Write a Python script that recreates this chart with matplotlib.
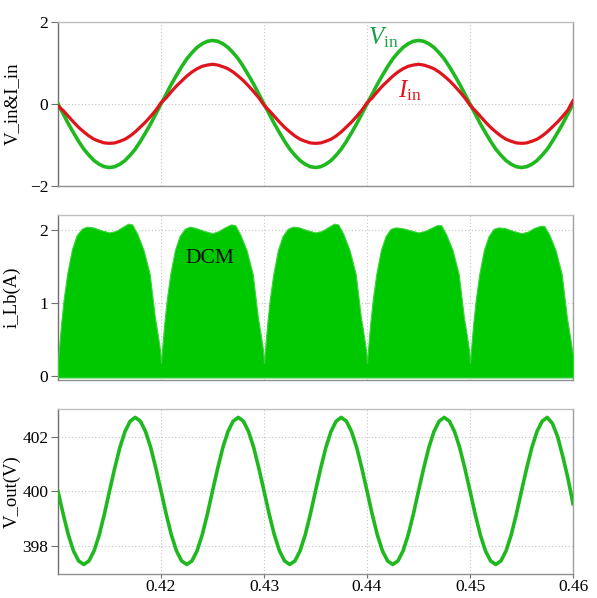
import numpy as np
import matplotlib
matplotlib.use("Agg")
import matplotlib.pyplot as plt

plt.rcParams["font.family"] = ["Liberation Serif", "DejaVu Serif"]
plt.rcParams["mathtext.fontset"] = "custom"
plt.rcParams["mathtext.rm"] = "Liberation Serif"
plt.rcParams["mathtext.it"] = "Liberation Serif:italic"

# ------------------ DATA ------------------
# sample times for the sine traces, 0.41 .. 0.46 s every 0.5 ms
t = np.linspace(0.41, 0.46, 101)

v_in = [0.00, -0.24, -0.48, -0.70, -0.91, -1.10, -1.25, -1.38, -1.47, -1.53,
        -1.55, -1.53, -1.47, -1.38, -1.25, -1.10, -0.91, -0.70, -0.48, -0.24,
        0.00, 0.24, 0.48, 0.70, 0.91, 1.10, 1.25, 1.38, 1.47, 1.53,
        1.55, 1.53, 1.47, 1.38, 1.25, 1.10, 0.91, 0.70, 0.48, 0.24,
        0.00, -0.24, -0.48, -0.70, -0.91, -1.10, -1.25, -1.38, -1.47, -1.53,
        -1.55, -1.53, -1.47, -1.38, -1.25, -1.10, -0.91, -0.70, -0.48, -0.24,
        0.00, 0.24, 0.48, 0.70, 0.91, 1.10, 1.25, 1.38, 1.47, 1.53,
        1.55, 1.53, 1.47, 1.38, 1.25, 1.10, 0.91, 0.70, 0.48, 0.24,
        0.00, -0.24, -0.48, -0.70, -0.91, -1.10, -1.25, -1.38, -1.47, -1.53,
        -1.55, -1.53, -1.47, -1.38, -1.25, -1.10, -0.91, -0.70, -0.48, -0.24,
        0.00]

i_in = [-0.05, -0.16, -0.30, -0.44, -0.57, -0.68, -0.78, -0.86, -0.91, -0.95,
        -0.96, -0.95, -0.91, -0.86, -0.78, -0.68, -0.56, -0.44, -0.30, -0.15,
        0.03, 0.15, 0.30, 0.44, 0.56, 0.68, 0.78, 0.86, 0.92, 0.95,
        0.97, 0.95, 0.91, 0.86, 0.78, 0.68, 0.57, 0.44, 0.30, 0.15,
        -0.03, -0.16, -0.30, -0.44, -0.57, -0.68, -0.78, -0.86, -0.91, -0.95,
        -0.96, -0.95, -0.91, -0.86, -0.78, -0.68, -0.56, -0.44, -0.30, -0.15,
        0.03, 0.15, 0.30, 0.44, 0.56, 0.68, 0.78, 0.86, 0.92, 0.95,
        0.97, 0.95, 0.91, 0.86, 0.78, 0.68, 0.57, 0.44, 0.30, 0.15,
        -0.03, -0.16, -0.30, -0.44, -0.57, -0.68, -0.78, -0.86, -0.91, -0.95,
        -0.96, -0.95, -0.91, -0.86, -0.78, -0.68, -0.56, -0.44, -0.30, -0.15,
        0.08]

v_out = [400.00, 399.17, 398.41, 397.82, 397.45, 397.32, 397.45, 397.82, 398.41, 399.17,
         400.02, 400.85, 401.61, 402.20, 402.58, 402.72, 402.58, 402.20, 401.61, 400.85,
         400.02, 399.17, 398.41, 397.82, 397.45, 397.32, 397.45, 397.82, 398.41, 399.17,
         400.02, 400.85, 401.61, 402.20, 402.58, 402.72, 402.58, 402.20, 401.61, 400.85,
         400.02, 399.17, 398.41, 397.82, 397.45, 397.32, 397.45, 397.82, 398.41, 399.17,
         400.02, 400.85, 401.61, 402.20, 402.58, 402.72, 402.58, 402.20, 401.61, 400.85,
         400.02, 399.17, 398.41, 397.82, 397.45, 397.32, 397.45, 397.82, 398.41, 399.17,
         400.02, 400.85, 401.61, 402.20, 402.58, 402.72, 402.58, 402.20, 401.61, 400.85,
         400.02, 399.17, 398.41, 397.82, 397.45, 397.32, 397.45, 397.82, 398.41, 399.17,
         400.02, 400.85, 401.61, 402.20, 402.58, 402.72, 402.50, 402.02, 401.30, 400.50,
         399.55]

# inductor current peak envelope: each hump starts at a line zero crossing
hump_starts = [0.41, 0.42, 0.43, 0.44, 0.45]
hump_offsets_ms = [0.0, 0.15, 0.3, 0.55, 0.9, 1.35, 1.8, 2.3, 2.8, 3.4, 4.2, 5.0,
                   5.6, 6.2, 6.8, 7.2, 7.7, 8.3, 8.9, 9.4, 9.7, 9.9, 10.0]
ilb_hump1 = [0.22, 0.47, 0.72, 1.06, 1.41, 1.74, 1.93, 2.02, 2.05, 2.04, 2.00, 1.97,
             1.99, 2.04, 2.09, 2.08, 1.95, 1.73, 1.40, 0.81, 0.55, 0.36, 0.18]
ilb_hump2 = [0.18, 0.45, 0.70, 1.04, 1.40, 1.73, 1.92, 2.02, 2.05, 2.03, 1.99, 1.96,
             1.99, 2.04, 2.08, 2.07, 1.94, 1.73, 1.40, 0.81, 0.55, 0.36, 0.18]
ilb_hump3 = [0.18, 0.45, 0.70, 1.04, 1.40, 1.73, 1.92, 2.02, 2.05, 2.04, 2.00, 1.97,
             1.99, 2.04, 2.09, 2.08, 1.95, 1.73, 1.40, 0.81, 0.55, 0.36, 0.18]
ilb_hump4 = [0.18, 0.45, 0.70, 1.04, 1.40, 1.73, 1.92, 2.02, 2.04, 2.03, 2.00, 1.97,
             1.99, 2.03, 2.07, 2.07, 1.94, 1.73, 1.40, 0.81, 0.55, 0.36, 0.18]
ilb_hump5 = [0.18, 0.45, 0.70, 1.04, 1.40, 1.73, 1.92, 2.02, 2.04, 2.03, 1.99, 1.96,
             1.98, 2.03, 2.06, 2.06, 1.94, 1.73, 1.40, 0.81, 0.55, 0.36, 0.30]

x_ticks = [0.42, 0.43, 0.44, 0.45, 0.46]

# ------------------ PLOT ------------------
green = "#1fb81f"
red = "#e0141c"
fill_green = "#00c800"

fig = plt.figure(figsize=(5.97, 5.98), dpi=100)
ax1 = fig.add_axes([0.0972, 0.6890, 0.8626, 0.2742])
ax2 = fig.add_axes([0.0972, 0.3645, 0.8626, 0.2760])
ax3 = fig.add_axes([0.0972, 0.0401, 0.8626, 0.2760])

ax1.plot(t, v_in, color=green, lw=2.6, zorder=3)
ax1.plot(t, i_in, color=red, lw=2.3, zorder=4)
ax1.text(0.4416, 1.62, r"$V_{\rm in}$", color="#1a9e45", fontsize=18,
         ha="center", va="center")
ax1.text(0.4442, 0.32, r"$I_{\rm in}$", color=red, fontsize=18,
         ha="center", va="center")
ax1.set_ylim(-2, 2)
ax1.set_yticks([-2, 0, 2])
ax1.set_ylabel("V_in&I_in")

env_t = []
env_v = []
for start, hump in zip(hump_starts, [ilb_hump1, ilb_hump2, ilb_hump3, ilb_hump4, ilb_hump5]):
    for off, val in zip(hump_offsets_ms, hump):
        env_t.append(start + off / 1000.0)
        env_v.append(val)
ax2.fill_between(env_t, -0.02, env_v, color=fill_green, lw=0.8,
                 edgecolor="#3cd43c", zorder=3)
ax2.text(0.4247, 1.61, "DCM", fontsize=15.5, ha="center", va="center", color="#111111")
ax2.set_ylim(-0.055, 2.21)
ax2.set_yticks([0, 1, 2])
ax2.set_ylabel("i_Lb(A)")

ax3.plot(t, v_out, color=green, lw=2.6, zorder=3)
ax3.set_ylim(396.97, 403.03)
ax3.set_yticks([398, 400, 402])
ax3.set_ylabel("V_out(V)")

for ax in [ax1, ax2, ax3]:
    ax.set_xlim(0.41, 0.46)
    ax.set_xticks(x_ticks)
    ax.grid(True, linestyle=(0, (1, 2)), color="#c4c4c4", lw=0.8, zorder=0)
    ax.tick_params(axis="both", direction="out", length=5, width=0.8,
                   color="#707070", labelsize=12.5, pad=2)
    ax.spines["left"].set_color("#707070")
    ax.spines["bottom"].set_color("#909090")
    ax.spines["right"].set_color("#a0a0a0")
    ax.spines["top"].set_color("#c0c0c0")
    for s in ax.spines.values():
        s.set_linewidth(1.0)
    ax.yaxis.set_label_coords(-0.072, 0.5)
    ax.yaxis.label.set_fontsize(13.5)

ax1.tick_params(axis="x", labelbottom=False, length=0)
ax2.tick_params(axis="x", labelbottom=False, length=0)
ax3.tick_params(axis="x", length=3, pad=0.5)

fig.savefig("out.png", dpi=100)
